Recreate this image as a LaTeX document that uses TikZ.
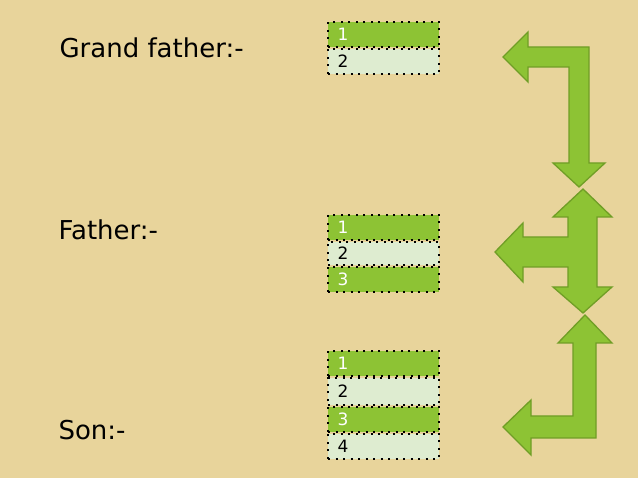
\documentclass[tikz,border=0pt]{standalone}
\usepackage{fontspec}
\setmainfont{DejaVu Sans}
\usetikzlibrary{positioning}
\definecolor{paper}{RGB}{232,212,155}
\definecolor{leaf}{RGB}{141,195,52}
\definecolor{leafdark}{RGB}{112,158,38}
\definecolor{pale}{RGB}{222,236,208}
\tikzset{gen/.style={anchor=base west, font=\fontsize{26}{26}\selectfont},
cell/.style={draw=black, line width=2pt, dash pattern=on 2pt off 5.5pt,
minimum width=111pt, minimum height=25pt, inner xsep=9pt, text width=92pt,
align=left, font=\fontsize{17}{17}\selectfont},
dk/.style={cell, fill=leaf, text=white},
lt/.style={cell, fill=pale, text=black}}

\begin{document}
\begin{tikzpicture}[x=1pt, y=-1pt, node distance=0pt,
  bent/.style={fill=leaf, draw=leafdark, line width=1.3pt, line join=miter}]
\fill[paper] (0,0) rectangle (638,478);
\useasboundingbox (0,0) rectangle (638,478);

% generations
\node[gen] (gflabel) at (56,58) {Grand father:-};
\node[gen] (flabel) at (55,240) {Father:-};
\node[gen] (slabel) at (55,440) {Son:-};

% grand father
\node[dk, anchor=north west] (gf1) at (327,21) {1};
\node[lt, below=of gf1] (gf2) {2};

% father
\node[dk, anchor=north west] (f1) at (327,214) {1};
\node[lt, below=of f1, minimum height=23pt] (f2) {2};
\node[dk, below=of f2] (f3) {3};

% son
\node[dk, anchor=north west] (s1) at (327,350) {1};
\node[lt, below=of s1, minimum height=27pt] (s2) {2};
\node[dk, below=of s2] (s3) {3};
\node[lt, below=of s3] (s4) {4};

% arrows
\draw[bent] (503,57) -- (528,32) -- (528,47) -- (589,47) -- (589,163)
  -- (605,163) -- (579,187) -- (553,163) -- (569,163) -- (569,67)
  -- (528,67) -- (528,82) -- cycle;
\draw[bent] (583,189) -- (612,217) -- (597,217) -- (597,287) -- (612,287)
  -- (583,313) -- (553,287) -- (568,287) -- (568,267) -- (523,267)
  -- (523,282) -- (495,252) -- (523,223) -- (523,237) -- (568,237)
  -- (568,217) -- (553,217) -- cycle;
\draw[bent] (585,315) -- (612,343) -- (596,343) -- (596,438) -- (531,438)
  -- (531,455) -- (503,427) -- (531,400) -- (531,416) -- (573,416)
  -- (573,343) -- (558,343) -- cycle;
\end{tikzpicture}
\end{document}
